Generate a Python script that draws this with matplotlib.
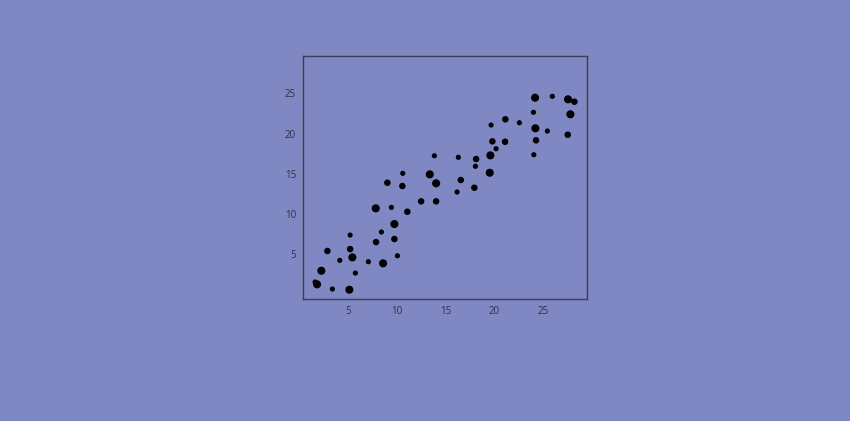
import matplotlib
matplotlib.use("Agg")
import matplotlib.pyplot as plt

x_vals = [1.62, 1.82, 2.26, 2.88, 3.39, 4.15, 5.21, 5.21, 5.44, 5.13, 5.75, 7.08,
          7.84, 7.87, 8.42, 8.59, 9.03, 9.44, 9.75, 9.75, 10.06, 10.57, 10.61, 11.08,
          12.49, 13.38, 13.85, 14.03, 14.03, 16.18, 16.31, 16.56, 17.95, 18.06, 18.13,
          19.53, 19.59, 19.80, 19.67, 20.18, 21.10, 21.13, 22.57, 24.01, 24.18, 24.21,
          24.28, 24.05, 25.44, 25.95, 27.56, 28.21, 27.80, 27.53]
y_vals = [1.57, 1.28, 2.97, 5.42, 0.70, 4.26, 7.40, 5.66, 4.63, 0.61, 2.68, 4.09,
          10.72, 6.53, 7.78, 3.89, 13.90, 10.84, 8.77, 6.91, 4.83, 13.49, 15.07, 10.30,
          11.59, 14.94, 17.25, 13.83, 11.59, 12.75, 17.06, 14.24, 13.28, 15.94, 16.84,
          15.14, 17.30, 19.04, 21.07, 18.12, 18.99, 21.78, 21.35, 22.65, 24.46, 20.66,
          19.17, 17.38, 20.32, 24.63, 24.26, 23.96, 22.40, 19.86]
weights = [1, 3, 3, 2, 1, 1, 1, 2, 3, 3, 1, 1,
           3, 2, 1, 3, 2, 1, 3, 2, 1, 2, 1, 2,
           2, 3, 1, 3, 2, 1, 1, 2, 2, 1, 2,
           3, 3, 2, 1, 1, 2, 2, 1, 1, 3, 3,
           2, 1, 1, 1, 3, 2, 3, 2]
x_ticks = [5, 10, 15, 20, 25]
y_ticks = [5, 10, 15, 20, 25]

plt.rcParams['font.family'] = ['Open Sans', 'DejaVu Sans']

bg = "#8088c4"
size_map = {1: 14, 2: 22, 3: 34}

fig = plt.figure(figsize=(8.5, 4.21), dpi=100, facecolor=bg)
ax = fig.add_axes([0.3565, 0.289, 0.3345, 0.578])
ax.set_facecolor(bg)
ax.scatter(x_vals, y_vals, s=[size_map[w] for w in weights], c="black",
           linewidths=0, zorder=3)
ax.set_xlim(0.38, 29.54)
ax.set_ylim(-0.58, 29.64)
ax.set_xticks(x_ticks)
ax.set_yticks(y_ticks)
ax.set_xticklabels([str(t) for t in x_ticks])
ax.set_yticklabels([str(t) for t in y_ticks])
ax.tick_params(length=0, labelsize=7, colors="#2e3040", pad=5)
for sp in ax.spines.values():
    sp.set_color("#3c3e52")
    sp.set_linewidth(1.0)

fig.savefig("out.png", dpi=100, facecolor=bg)
